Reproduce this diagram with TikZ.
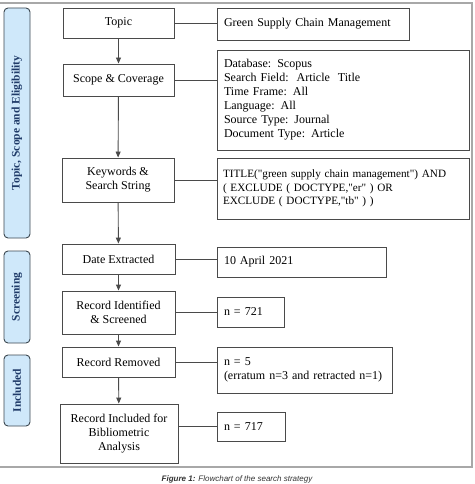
\documentclass[tikz,border=0pt]{standalone}
\usepackage{fontspec}
\setmainfont{Liberation Serif}[Ligatures=TeXOff]
\newfontfamily\capfont{Liberation Sans}
\usetikzlibrary{arrows.meta}
\definecolor{boxline}{HTML}{4A4A4A}
\definecolor{sidefill}{HTML}{CFE8FA}
\definecolor{sideline}{HTML}{3C4850}
\definecolor{sidetext}{HTML}{1F3A68}
\definecolor{framegray}{HTML}{A8A8A8}
\tikzset{
  lbox/.style={draw=boxline, line width=0.9pt, align=center, inner sep=0pt,
    font=\fontsize{12}{14}\selectfont},
  rbox/.style={draw=boxline, line width=0.9pt, align=left, inner xsep=7pt, inner ysep=0pt,
    font=\fontsize{12}{14}\selectfont},
  side/.style={draw=sideline, fill=sidefill, line width=0.9pt, rounded corners=4pt,
    minimum width=26pt, inner sep=0pt},
  sidelabel/.style={rotate=90, text=sidetext, font=\fontsize{11.5}{13}\selectfont\bfseries},
  flow/.style={draw=boxline, line width=0.9pt, -{Triangle[length=6pt,width=5pt]}},
  link/.style={draw=boxline, line width=0.9pt},
}
\begin{document}
\begin{tikzpicture}[x=1pt,y=-1pt]
\useasboundingbox (0,0) rectangle (474,484);
% outer frame
\draw[framegray, line width=1.4pt] (0,3) -- (472,3) -- (472,467) -- (0,467);
% side bars
\node[side, minimum height=230pt] (s1) at (17,123) {};
\node[sidelabel] (s1t) at (s1.center) {Topic, Scope and Eligibility};
\node[side, minimum height=92pt] (s2) at (17,297) {};
\node[sidelabel] (s2t) at (s2.center) {Screening};
\node[side, minimum height=71pt] (s3) at (17,390.5) {};
\node[sidelabel] (s3t) at (s3.center) {Included};
% left boxes
\node[lbox, minimum width=111pt, minimum height=30pt] (topic) at (118.5,23) {Topic};
\node[lbox, minimum width=111pt, minimum height=32pt] (scope) at (118.5,80) {Scope \& Coverage};
\node[lbox, minimum width=112pt, minimum height=44pt] (kw) at (118,180) {Keywords \&\\Search String};
\node[lbox, minimum width=113pt, minimum height=30pt] (date) at (118.5,259) {Date Extracted};
\node[lbox, minimum width=113pt, minimum height=43pt] (recid) at (118.5,312.5) {Record Identified\\\& Screened};
\node[lbox, minimum width=113pt, minimum height=30pt] (recrem) at (118.5,362) {Record Removed};
\node[lbox, minimum width=118pt, minimum height=59pt] (recinc) at (119,433.5) {Record Included for\\Bibliometric\\Analysis};
% right boxes
\node[rbox, text width=178pt, minimum height=32pt] (green) at (313,24) {Green Supply Chain Management};
\node[rbox, text width=238pt, minimum height=100pt] (db) at (343,100) {Database: Scopus\\Search Field:\ \ Article\ \ Title\\Time Frame: All\\Language: All\\Source Type: Journal\\Document Type: Article};
\node[rbox, text width=240pt, inner xsep=6pt, minimum height=61pt, font=\fontsize{11.2}{13.5}\selectfont] (title) at (343,188.5) {TITLE("green supply chain management") AND\\( EXCLUDE ( DOCTYPE,"er" ) OR\\EXCLUDE ( DOCTYPE,"tb" ) )};
\node[rbox, text width=155pt, minimum height=30pt] (april) at (301.5,262) {10 April 2021};
\node[rbox, text width=53pt, minimum height=30pt] (n721) at (250.5,312) {n = 721};
\node[rbox, text width=161pt, minimum height=46pt] (n5) at (304.5,370) {n = 5\\(erratum n=3 and retracted n=1)};
\node[rbox, text width=54pt, minimum height=29pt] (n717) at (251,426.5) {n = 717};
% flow arrows
\draw[flow] (topic) -- (scope);
\draw[flow] (scope) -- (kw);
\draw[flow] (kw) -- (date);
\draw[flow] (date) -- (recid);
\draw[flow] (recid) -- (recrem);
\draw[flow] (recrem) -- (recinc);
% horizontal links
\draw[link] (topic.east) -- (topic.east -| green.west);
\draw[link] (scope.east) -- (scope.east -| db.west);
\draw[link] (kw.east) -- (kw.east -| title.west);
\draw[link] (date.east) -- (date.east -| april.west);
\draw[link] (recid.east) -- (recid.east -| n721.west);
\draw[link] (recrem.east) -- (recrem.east -| n5.west);
\draw[link] (recinc.east |- n717.west) -- (n717.west);
% caption
\node[font=\capfont\fontsize{8}{9}\selectfont\itshape, text=black!80] (cap) at (237,479.5) {\textbf{Figure 1:} Flowchart of the search strategy};
\end{tikzpicture}
\end{document}
